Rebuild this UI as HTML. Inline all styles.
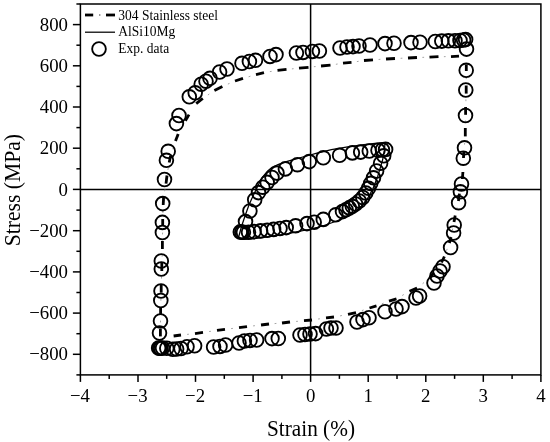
<!DOCTYPE html>
<html lang="en">
<head>
<meta charset="utf-8">
<title>Stress-strain hysteresis loops</title>
<style>
html,body{margin:0;padding:0;background:#fff;}
body{width:550px;height:442px;overflow:hidden;}
svg{display:block;}
text{font-family:"Liberation Serif","Times New Roman",serif;fill:#000;}
.tick{font-size:19.5px;}
.title{font-size:21.5px;}
.leg{font-size:14px;}
.c{fill:none;stroke:#000;stroke-width:1.85;}
.ax{stroke:#000;stroke-width:1.5;fill:none;}
.d{stroke:#000;stroke-width:2.8;fill:none;}
.dot{stroke:#9a9a9a;stroke-width:0.9;fill:none;}
.s{stroke:#000;stroke-width:1.25;fill:none;stroke-linejoin:round;}
</style>
</head>
<body>
<svg width="550" height="442" viewBox="0 0 550 442">
<rect x="0" y="0" width="550" height="442" fill="#fff"/>

<rect class="ax" x="80.4" y="4.0" width="460.5" height="370.9"/>
<line class="ax" x1="80.4" y1="189.4" x2="540.9" y2="189.4" style="stroke-width:1.5"/>
<line class="ax" x1="310.6" y1="4.0" x2="310.6" y2="374.9" style="stroke-width:1.5"/>
<line class="ax" x1="72.9" y1="354.3" x2="80.4" y2="354.3"/>
<text class="tick" transform="translate(68.0,360.4) scale(0.965,1)" text-anchor="end">−800</text>
<line class="ax" x1="72.9" y1="313.1" x2="80.4" y2="313.1"/>
<text class="tick" transform="translate(68.0,319.2) scale(0.965,1)" text-anchor="end">−600</text>
<line class="ax" x1="72.9" y1="271.9" x2="80.4" y2="271.9"/>
<text class="tick" transform="translate(68.0,278.0) scale(0.965,1)" text-anchor="end">−400</text>
<line class="ax" x1="72.9" y1="230.7" x2="80.4" y2="230.7"/>
<text class="tick" transform="translate(68.0,236.8) scale(0.965,1)" text-anchor="end">−200</text>
<line class="ax" x1="72.9" y1="189.4" x2="80.4" y2="189.4"/>
<text class="tick" transform="translate(68.0,195.5) scale(0.965,1)" text-anchor="end">0</text>
<line class="ax" x1="72.9" y1="148.2" x2="80.4" y2="148.2"/>
<text class="tick" transform="translate(68.0,154.3) scale(0.965,1)" text-anchor="end">200</text>
<line class="ax" x1="72.9" y1="107.0" x2="80.4" y2="107.0"/>
<text class="tick" transform="translate(68.0,113.1) scale(0.965,1)" text-anchor="end">400</text>
<line class="ax" x1="72.9" y1="65.8" x2="80.4" y2="65.8"/>
<text class="tick" transform="translate(68.0,71.9) scale(0.965,1)" text-anchor="end">600</text>
<line class="ax" x1="72.9" y1="24.6" x2="80.4" y2="24.6"/>
<text class="tick" transform="translate(68.0,30.7) scale(0.965,1)" text-anchor="end">800</text>
<line class="ax" x1="76.4" y1="374.9" x2="80.4" y2="374.9"/>
<line class="ax" x1="76.4" y1="333.7" x2="80.4" y2="333.7"/>
<line class="ax" x1="76.4" y1="292.5" x2="80.4" y2="292.5"/>
<line class="ax" x1="76.4" y1="251.3" x2="80.4" y2="251.3"/>
<line class="ax" x1="76.4" y1="210.1" x2="80.4" y2="210.1"/>
<line class="ax" x1="76.4" y1="168.8" x2="80.4" y2="168.8"/>
<line class="ax" x1="76.4" y1="127.6" x2="80.4" y2="127.6"/>
<line class="ax" x1="76.4" y1="86.4" x2="80.4" y2="86.4"/>
<line class="ax" x1="76.4" y1="45.2" x2="80.4" y2="45.2"/>
<line class="ax" x1="76.4" y1="4.0" x2="80.4" y2="4.0"/>
<line class="ax" x1="80.4" y1="374.9" x2="80.4" y2="381.9"/>
<text class="tick" transform="translate(80.0,402.2) scale(0.965,1)" text-anchor="middle">−4</text>
<line class="ax" x1="138.0" y1="374.9" x2="138.0" y2="381.9"/>
<text class="tick" transform="translate(137.6,402.2) scale(0.965,1)" text-anchor="middle">−3</text>
<line class="ax" x1="195.5" y1="374.9" x2="195.5" y2="381.9"/>
<text class="tick" transform="translate(195.1,402.2) scale(0.965,1)" text-anchor="middle">−2</text>
<line class="ax" x1="253.1" y1="374.9" x2="253.1" y2="381.9"/>
<text class="tick" transform="translate(252.7,402.2) scale(0.965,1)" text-anchor="middle">−1</text>
<line class="ax" x1="310.6" y1="374.9" x2="310.6" y2="381.9"/>
<text class="tick" transform="translate(310.6,402.2) scale(0.965,1)" text-anchor="middle">0</text>
<line class="ax" x1="368.2" y1="374.9" x2="368.2" y2="381.9"/>
<text class="tick" transform="translate(368.2,402.2) scale(0.965,1)" text-anchor="middle">1</text>
<line class="ax" x1="425.8" y1="374.9" x2="425.8" y2="381.9"/>
<text class="tick" transform="translate(425.8,402.2) scale(0.965,1)" text-anchor="middle">2</text>
<line class="ax" x1="483.3" y1="374.9" x2="483.3" y2="381.9"/>
<text class="tick" transform="translate(483.3,402.2) scale(0.965,1)" text-anchor="middle">3</text>
<line class="ax" x1="540.9" y1="374.9" x2="540.9" y2="381.9"/>
<text class="tick" transform="translate(540.9,402.2) scale(0.965,1)" text-anchor="middle">4</text>
<line class="ax" x1="109.2" y1="374.9" x2="109.2" y2="378.9"/>
<line class="ax" x1="166.7" y1="374.9" x2="166.7" y2="378.9"/>
<line class="ax" x1="224.3" y1="374.9" x2="224.3" y2="378.9"/>
<line class="ax" x1="281.9" y1="374.9" x2="281.9" y2="378.9"/>
<line class="ax" x1="339.4" y1="374.9" x2="339.4" y2="378.9"/>
<line class="ax" x1="397.0" y1="374.9" x2="397.0" y2="378.9"/>
<line class="ax" x1="454.6" y1="374.9" x2="454.6" y2="378.9"/>
<line class="ax" x1="512.1" y1="374.9" x2="512.1" y2="378.9"/>
<text class="title" transform="translate(311,436) scale(0.95,1)" style="font-size:22.4px" text-anchor="middle">Strain (%)</text>
<text class="title" transform="translate(19.9,190.2) rotate(-90) scale(0.97,1)" style="font-size:22.3px" text-anchor="middle">Stress (MPa)</text>
<line class="d" x1="85" y1="15" x2="93.2" y2="15"/><line class="d" x1="106" y1="15" x2="115" y2="15"/>
<line class="dot" x1="99" y1="15" x2="100.4" y2="15" style="stroke-width:2"/>
<line class="s" x1="85" y1="32.2" x2="115" y2="32.2"/>
<circle class="c" cx="99" cy="49" r="6.85"/>
<text class="leg" transform="translate(118.3,19.6) scale(0.965,1)">304 Stainless steel</text>
<text class="leg" transform="translate(118.3,36.2) scale(0.965,1)">AlSi10Mg</text>
<text class="leg" transform="translate(118.3,52.9) scale(0.965,1)">Exp. data</text>
<g class="d">
<line x1="196.2" y1="103.6" x2="202.8" y2="98.4"/>
<line x1="214.4" y1="90.6" x2="222.4" y2="86.5"/>
<line x1="235.0" y1="81.0" x2="243.0" y2="78.4"/>
<line x1="256.0" y1="74.6" x2="264.0" y2="72.6"/>
<line x1="277.5" y1="70.4" x2="286.5" y2="69.4"/>
<line x1="299.0" y1="68.2" x2="308.5" y2="67.3"/>
<line x1="321.0" y1="66.0" x2="330.5" y2="65.1"/>
<line x1="343.0" y1="63.2" x2="351.5" y2="62.4"/>
<line x1="364.0" y1="60.5" x2="373.0" y2="59.8"/>
<line x1="386.0" y1="59.0" x2="395.0" y2="58.5"/>
<line x1="408.0" y1="58.0" x2="417.0" y2="57.5"/>
<line x1="429.5" y1="57.2" x2="438.5" y2="56.7"/>
<line x1="451.0" y1="56.6" x2="459.0" y2="56.2"/>
<line x1="466.3" y1="64.5" x2="466.3" y2="71.0"/>
<line x1="466.2" y1="85.5" x2="466.2" y2="93.6"/>
<line x1="465.6" y1="107.0" x2="465.6" y2="114.8"/>
<line x1="465.3" y1="128.0" x2="465.3" y2="136.4"/>
<line x1="463.9" y1="151.0" x2="463.5" y2="158.0"/>
<line x1="462.9" y1="172.0" x2="462.4" y2="179.0"/>
<line x1="459.4" y1="193.6" x2="458.4" y2="201.0"/>
<line x1="455.2" y1="215.5" x2="454.0" y2="222.0"/>
<line x1="451.0" y1="237.0" x2="449.3" y2="243.0"/>
<line x1="444.4" y1="256.5" x2="441.5" y2="262.5"/>
<line x1="433.6" y1="272.8" x2="429.6" y2="278.2"/>
<line x1="417.0" y1="288.0" x2="409.5" y2="291.2"/>
<line x1="396.5" y1="298.8" x2="389.0" y2="301.2"/>
<line x1="376.5" y1="305.8" x2="369.5" y2="308.0"/>
<line x1="356.0" y1="312.6" x2="348.0" y2="314.4"/>
<line x1="334.0" y1="317.0" x2="326.0" y2="317.8"/>
<line x1="312.0" y1="320.0" x2="304.0" y2="320.7"/>
<line x1="290.0" y1="322.0" x2="282.0" y2="323.0"/>
<line x1="269.0" y1="324.0" x2="261.0" y2="325.0"/>
<line x1="247.0" y1="326.6" x2="239.0" y2="327.6"/>
<line x1="225.0" y1="329.4" x2="217.0" y2="330.4"/>
<line x1="203.0" y1="332.4" x2="195.0" y2="333.6"/>
<line x1="181.0" y1="335.0" x2="173.6" y2="336.0"/>
<line x1="160.4" y1="336.4" x2="160.4" y2="329.0"/>
<line x1="160.6" y1="314.0" x2="160.6" y2="307.0"/>
<line x1="161.2" y1="292.7" x2="161.2" y2="284.5"/>
<line x1="161.8" y1="271.0" x2="161.8" y2="262.7"/>
<line x1="162.4" y1="249.0" x2="162.4" y2="241.0"/>
<line x1="162.7" y1="226.0" x2="162.7" y2="219.0"/>
<line x1="163.2" y1="205.0" x2="163.6" y2="197.0"/>
<line x1="166.0" y1="183.6" x2="167.0" y2="175.5"/>
<line x1="169.2" y1="162.5" x2="170.6" y2="155.7"/>
<line x1="175.5" y1="141.0" x2="178.2" y2="134.0"/>
<line x1="185.4" y1="120.8" x2="189.0" y2="114.6"/>
</g>
<g class="dot">
<line x1="207.9" y1="95.0" x2="209.3" y2="94.0"/>
<line x1="227.9" y1="84.1" x2="229.5" y2="83.4"/>
<line x1="248.6" y1="76.8" x2="250.4" y2="76.2"/>
<line x1="269.9" y1="71.6" x2="271.6" y2="71.4"/>
<line x1="291.9" y1="68.9" x2="293.6" y2="68.7"/>
<line x1="313.9" y1="66.7" x2="315.6" y2="66.6"/>
<line x1="335.9" y1="64.3" x2="337.6" y2="64.0"/>
<line x1="356.9" y1="61.6" x2="358.6" y2="61.3"/>
<line x1="378.6" y1="59.5" x2="380.4" y2="59.3"/>
<line x1="400.6" y1="58.3" x2="402.4" y2="58.2"/>
<line x1="422.4" y1="57.4" x2="424.1" y2="57.3"/>
<line x1="443.9" y1="56.7" x2="445.6" y2="56.6"/>
<line x1="466.3" y1="77.4" x2="466.2" y2="79.1"/>
<line x1="465.9" y1="99.4" x2="465.9" y2="101.2"/>
<line x1="465.5" y1="120.5" x2="465.4" y2="122.3"/>
<line x1="464.7" y1="142.8" x2="464.5" y2="144.6"/>
<line x1="463.2" y1="164.1" x2="463.2" y2="165.9"/>
<line x1="461.1" y1="185.4" x2="460.7" y2="187.2"/>
<line x1="457.0" y1="207.4" x2="456.6" y2="209.1"/>
<line x1="452.7" y1="228.6" x2="452.3" y2="230.4"/>
<line x1="447.2" y1="248.9" x2="446.5" y2="250.6"/>
<line x1="438.1" y1="266.9" x2="437.0" y2="268.4"/>
<line x1="424.0" y1="282.5" x2="422.6" y2="283.7"/>
<line x1="403.8" y1="294.5" x2="402.2" y2="295.5"/>
<line x1="383.6" y1="303.2" x2="381.9" y2="303.8"/>
<line x1="363.6" y1="310.0" x2="361.9" y2="310.6"/>
<line x1="341.9" y1="315.5" x2="340.1" y2="315.9"/>
<line x1="319.9" y1="318.8" x2="318.1" y2="319.0"/>
<line x1="297.9" y1="321.3" x2="296.1" y2="321.4"/>
<line x1="276.4" y1="323.4" x2="274.6" y2="323.6"/>
<line x1="254.9" y1="325.7" x2="253.1" y2="325.9"/>
<line x1="232.9" y1="328.4" x2="231.1" y2="328.6"/>
<line x1="210.9" y1="331.3" x2="209.1" y2="331.5"/>
<line x1="188.9" y1="334.2" x2="187.1" y2="334.4"/>
<line x1="160.5" y1="322.4" x2="160.5" y2="320.6"/>
<line x1="160.9" y1="300.7" x2="160.9" y2="299.0"/>
<line x1="161.5" y1="278.6" x2="161.5" y2="276.9"/>
<line x1="162.1" y1="256.7" x2="162.1" y2="255.0"/>
<line x1="162.5" y1="234.4" x2="162.6" y2="232.6"/>
<line x1="162.9" y1="212.9" x2="163.0" y2="211.1"/>
<line x1="164.6" y1="191.2" x2="165.0" y2="189.4"/>
<line x1="167.9" y1="169.9" x2="168.3" y2="168.1"/>
<line x1="172.8" y1="149.2" x2="173.3" y2="147.5"/>
<line x1="181.4" y1="128.2" x2="182.2" y2="126.6"/>
</g>
<polyline class="s" points="238.5,237.5 241.5,226.5 245.0,216.0 248.6,206.0 251.4,199.5 255.2,191.6 258.5,184.5 262.3,177.5 267.7,170.9 272.1,167.2 278.6,164.4 286.3,161.7 291.7,160.1 297.3,158.6 302.7,157.0 310.4,155.0 316.0,153.4 323.5,151.6 331.4,149.7 347.7,146.8 364.0,144.5 375.0,143.4 385.0,142.5"/>
<polyline class="s" points="385.0,142.5 384.5,150.0 382.6,160.0 377.7,176.4 372.8,189.0 367.7,198.2 362.0,205.5 355.5,211.3 345.6,217.0 336.8,221.0 325.5,225.0 317.4,227.4 308.6,229.5 297.7,231.7 286.8,233.9 275.9,235.6 265.0,237.2 252.0,238.9 244.0,239.2 238.5,237.5"/>
<g class="c">
<circle cx="168.2" cy="151.3" r="6.85"/>
<circle cx="166.4" cy="160.3" r="6.85"/>
<circle cx="176.4" cy="123.6" r="6.85"/>
<circle cx="179.0" cy="115.5" r="6.85"/>
<circle cx="189.3" cy="96.8" r="6.85"/>
<circle cx="195.2" cy="92.8" r="6.85"/>
<circle cx="201.2" cy="84.2" r="6.85"/>
<circle cx="206.0" cy="81.2" r="6.85"/>
<circle cx="210.0" cy="78.3" r="6.85"/>
<circle cx="219.6" cy="72.0" r="6.85"/>
<circle cx="227.0" cy="69.0" r="6.85"/>
<circle cx="242.0" cy="63.3" r="6.85"/>
<circle cx="249.4" cy="61.5" r="6.85"/>
<circle cx="255.5" cy="60.3" r="6.85"/>
<circle cx="270.0" cy="56.4" r="6.85"/>
<circle cx="276.0" cy="54.6" r="6.85"/>
<circle cx="296.4" cy="53.0" r="6.85"/>
<circle cx="303.0" cy="52.4" r="6.85"/>
<circle cx="312.4" cy="51.4" r="6.85"/>
<circle cx="319.4" cy="51.0" r="6.85"/>
<circle cx="340.0" cy="48.0" r="6.85"/>
<circle cx="347.0" cy="47.0" r="6.85"/>
<circle cx="353.0" cy="46.6" r="6.85"/>
<circle cx="359.0" cy="46.0" r="6.85"/>
<circle cx="370.0" cy="45.0" r="6.85"/>
<circle cx="385.0" cy="43.6" r="6.85"/>
<circle cx="394.0" cy="43.2" r="6.85"/>
<circle cx="411.0" cy="42.6" r="6.85"/>
<circle cx="420.0" cy="42.2" r="6.85"/>
<circle cx="435.3" cy="41.5" r="6.85"/>
<circle cx="441.8" cy="41.1" r="6.85"/>
<circle cx="448.4" cy="40.8" r="6.85"/>
<circle cx="455.0" cy="40.7" r="6.85"/>
<circle cx="460.0" cy="40.4" r="6.85"/>
<circle cx="463.6" cy="40.0" r="6.85"/>
<circle cx="465.6" cy="39.5" r="6.85"/>
<circle cx="466.5" cy="49.1" r="6.85"/>
<circle cx="466.2" cy="70.3" r="6.85"/>
<circle cx="465.8" cy="90.0" r="6.85"/>
<circle cx="465.5" cy="115.5" r="6.85"/>
<circle cx="464.5" cy="147.8" r="6.85"/>
<circle cx="463.3" cy="158.2" r="6.85"/>
<circle cx="461.5" cy="184.0" r="6.85"/>
<circle cx="460.4" cy="191.8" r="6.85"/>
<circle cx="458.6" cy="202.7" r="6.85"/>
<circle cx="454.2" cy="225.0" r="6.85"/>
<circle cx="453.6" cy="233.0" r="6.85"/>
<circle cx="450.6" cy="247.5" r="6.85"/>
<circle cx="443.0" cy="266.7" r="6.85"/>
<circle cx="440.0" cy="271.0" r="6.85"/>
<circle cx="437.0" cy="276.0" r="6.85"/>
<circle cx="434.0" cy="283.0" r="6.85"/>
<circle cx="419.6" cy="296.0" r="6.85"/>
<circle cx="416.0" cy="298.0" r="6.85"/>
<circle cx="402.0" cy="306.6" r="6.85"/>
<circle cx="396.0" cy="309.0" r="6.85"/>
<circle cx="385.0" cy="311.7" r="6.85"/>
<circle cx="369.0" cy="317.8" r="6.85"/>
<circle cx="363.0" cy="319.6" r="6.85"/>
<circle cx="357.0" cy="322.0" r="6.85"/>
<circle cx="336.0" cy="328.0" r="6.85"/>
<circle cx="331.0" cy="328.0" r="6.85"/>
<circle cx="326.4" cy="329.0" r="6.85"/>
<circle cx="315.6" cy="333.6" r="6.85"/>
<circle cx="310.0" cy="334.0" r="6.85"/>
<circle cx="305.0" cy="334.4" r="6.85"/>
<circle cx="300.0" cy="335.0" r="6.85"/>
<circle cx="278.3" cy="338.5" r="6.85"/>
<circle cx="272.0" cy="338.6" r="6.85"/>
<circle cx="256.6" cy="340.0" r="6.85"/>
<circle cx="250.0" cy="340.4" r="6.85"/>
<circle cx="244.4" cy="341.0" r="6.85"/>
<circle cx="239.0" cy="343.0" r="6.85"/>
<circle cx="225.6" cy="345.0" r="6.85"/>
<circle cx="220.0" cy="346.4" r="6.85"/>
<circle cx="213.6" cy="347.0" r="6.85"/>
<circle cx="194.6" cy="345.8" r="6.85"/>
<circle cx="187.0" cy="346.8" r="6.85"/>
<circle cx="181.0" cy="348.5" r="6.85"/>
<circle cx="176.6" cy="349.0" r="6.85"/>
<circle cx="172.8" cy="349.3" r="6.85"/>
<circle cx="166.8" cy="348.3" r="6.85"/>
<circle cx="162.5" cy="348.0" r="6.85"/>
<circle cx="160.8" cy="348.2" r="6.85"/>
<circle cx="159.7" cy="348.2" r="6.85"/>
<circle cx="158.6" cy="348.0" r="6.85"/>
<circle cx="159.5" cy="333.0" r="6.85"/>
<circle cx="160.5" cy="321.0" r="6.85"/>
<circle cx="160.8" cy="300.5" r="6.85"/>
<circle cx="161.0" cy="291.0" r="6.85"/>
<circle cx="161.3" cy="269.0" r="6.85"/>
<circle cx="161.3" cy="261.0" r="6.85"/>
<circle cx="162.4" cy="232.5" r="6.85"/>
<circle cx="162.4" cy="222.4" r="6.85"/>
<circle cx="162.7" cy="203.6" r="6.85"/>
<circle cx="164.5" cy="179.5" r="6.85"/>
<circle cx="240.3" cy="231.9" r="6.85"/>
<circle cx="241.8" cy="232.3" r="6.85"/>
<circle cx="243.4" cy="232.3" r="6.85"/>
<circle cx="245.5" cy="221.6" r="6.85"/>
<circle cx="249.9" cy="211.0" r="6.85"/>
<circle cx="254.7" cy="199.8" r="6.85"/>
<circle cx="258.5" cy="192.6" r="6.85"/>
<circle cx="262.8" cy="187.2" r="6.85"/>
<circle cx="267.2" cy="182.4" r="6.85"/>
<circle cx="272.0" cy="177.5" r="6.85"/>
<circle cx="277.0" cy="173.1" r="6.85"/>
<circle cx="285.4" cy="168.9" r="6.85"/>
<circle cx="297.4" cy="164.7" r="6.85"/>
<circle cx="309.3" cy="161.6" r="6.85"/>
<circle cx="323.3" cy="157.8" r="6.85"/>
<circle cx="339.6" cy="155.3" r="6.85"/>
<circle cx="352.4" cy="152.9" r="6.85"/>
<circle cx="360.7" cy="152.1" r="6.85"/>
<circle cx="369.3" cy="151.0" r="6.85"/>
<circle cx="378.0" cy="150.2" r="6.85"/>
<circle cx="382.4" cy="149.8" r="6.85"/>
<circle cx="385.6" cy="149.4" r="6.85"/>
<circle cx="383.7" cy="155.8" r="6.85"/>
<circle cx="380.6" cy="163.2" r="6.85"/>
<circle cx="376.6" cy="171.0" r="6.85"/>
<circle cx="373.5" cy="177.8" r="6.85"/>
<circle cx="370.7" cy="183.4" r="6.85"/>
<circle cx="368.5" cy="188.3" r="6.85"/>
<circle cx="365.8" cy="193.0" r="6.85"/>
<circle cx="362.8" cy="197.5" r="6.85"/>
<circle cx="359.3" cy="201.0" r="6.85"/>
<circle cx="355.6" cy="204.0" r="6.85"/>
<circle cx="352.3" cy="206.3" r="6.85"/>
<circle cx="349.3" cy="207.9" r="6.85"/>
<circle cx="346.0" cy="209.7" r="6.85"/>
<circle cx="342.5" cy="211.6" r="6.85"/>
<circle cx="335.8" cy="214.8" r="6.85"/>
<circle cx="323.3" cy="219.4" r="6.85"/>
<circle cx="314.2" cy="222.2" r="6.85"/>
<circle cx="307.0" cy="223.6" r="6.85"/>
<circle cx="295.6" cy="225.8" r="6.85"/>
<circle cx="286.2" cy="227.6" r="6.85"/>
<circle cx="280.0" cy="228.5" r="6.85"/>
<circle cx="273.6" cy="229.4" r="6.85"/>
<circle cx="267.2" cy="230.3" r="6.85"/>
<circle cx="260.6" cy="230.9" r="6.85"/>
<circle cx="254.0" cy="231.6" r="6.85"/>
<circle cx="248.5" cy="232.2" r="6.85"/>
</g>
</svg>
</body>
</html>
